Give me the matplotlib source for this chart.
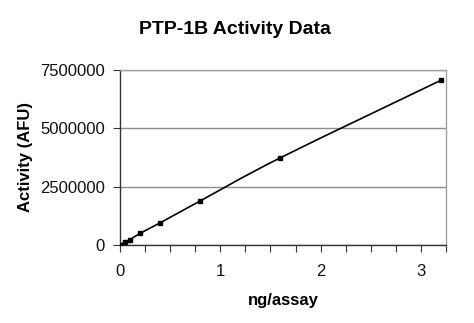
import matplotlib
matplotlib.use("Agg")
import matplotlib.pyplot as plt
from matplotlib.path import Path
from matplotlib.patches import PathPatch
import numpy as np

plt.rcParams['font.family'] = ['Liberation Sans', 'DejaVu Sans']

ng_per_assay = [0, 0.05, 0.1, 0.2, 0.4, 0.8, 1.6, 3.2]
activity = [0, 130000, 230000, 500000, 950000, 1890000, 3740000, 7060000]
y_ticks = [0, 2500000, 5000000, 7500000]
y_tick_labels = ["0", "2500000", "5000000", "7500000"]
x_ticks = [0, 1, 2, 3]
x_tick_labels = ["0", "1", "2", "3"]

fig = plt.figure(figsize=(4.74, 3.23), dpi=100)
ax = fig.add_axes([120/474, 78/323, 326/474, 175/323])

# Excel-style smoothed line (Catmull-Rom as cubic Bezier)
x = np.array(ng_per_assay, float)
y = np.array(activity, float)
verts = [(x[0], y[0])]
codes = [Path.MOVETO]
n = len(x)
for i in range(n - 1):
    x0, y0 = (x[i-1], y[i-1]) if i > 0 else (x[i], y[i])
    x3, y3 = (x[i+2], y[i+2]) if i + 2 < n else (x[i+1], y[i+1])
    c1 = (x[i] + (x[i+1] - x0) / 6, y[i] + (y[i+1] - y0) / 6)
    c2 = (x[i+1] - (x3 - x[i]) / 6, y[i+1] - (y3 - y[i]) / 6)
    verts += [c1, c2, (x[i+1], y[i+1])]
    codes += [Path.CURVE4, Path.CURVE4, Path.CURVE4]
ax.add_patch(PathPatch(Path(verts, codes), facecolor='none', edgecolor='black', lw=1.2, zorder=3))
ax.plot(x, y, linestyle='none', marker='s', markersize=2.2, color='black', zorder=4)

ax.set_xlim(0, 3.25)
ax.set_ylim(0, 7500000)
ax.set_yticks(y_ticks)
ax.set_yticklabels(y_tick_labels)
ax.set_xticks(x_ticks)
ax.set_xticklabels(x_tick_labels)
ax.set_xticks(np.arange(0, 3.26, 0.25), minor=True)
ax.tick_params(axis='both', which='both', direction='out', length=5, width=0.8,
               color='#333333', labelsize=12, labelcolor='#111111', pad=6)
ax.tick_params(axis='x', which='major', pad=9)

ax.grid(axis='y', color='#8c8c8c', lw=1.0)
ax.set_axisbelow(True)
for s in ['top', 'right']:
    ax.spines[s].set_color('#a0a0a0')
    ax.spines[s].set_linewidth(1.0)
for s in ['left', 'bottom']:
    ax.spines[s].set_color('#333333')
    ax.spines[s].set_linewidth(1.0)

ax.set_xlabel('ng/assay', fontsize=12, fontweight='bold', labelpad=10)
ax.set_ylabel('Activity (AFU)', fontsize=12, fontweight='bold', labelpad=5)
fig.text(235/474, 1 - 29/323, 'PTP-1B Activity Data', fontsize=14, fontweight='bold',
         ha='center', va='center')

fig.savefig('out.png', dpi=100)
